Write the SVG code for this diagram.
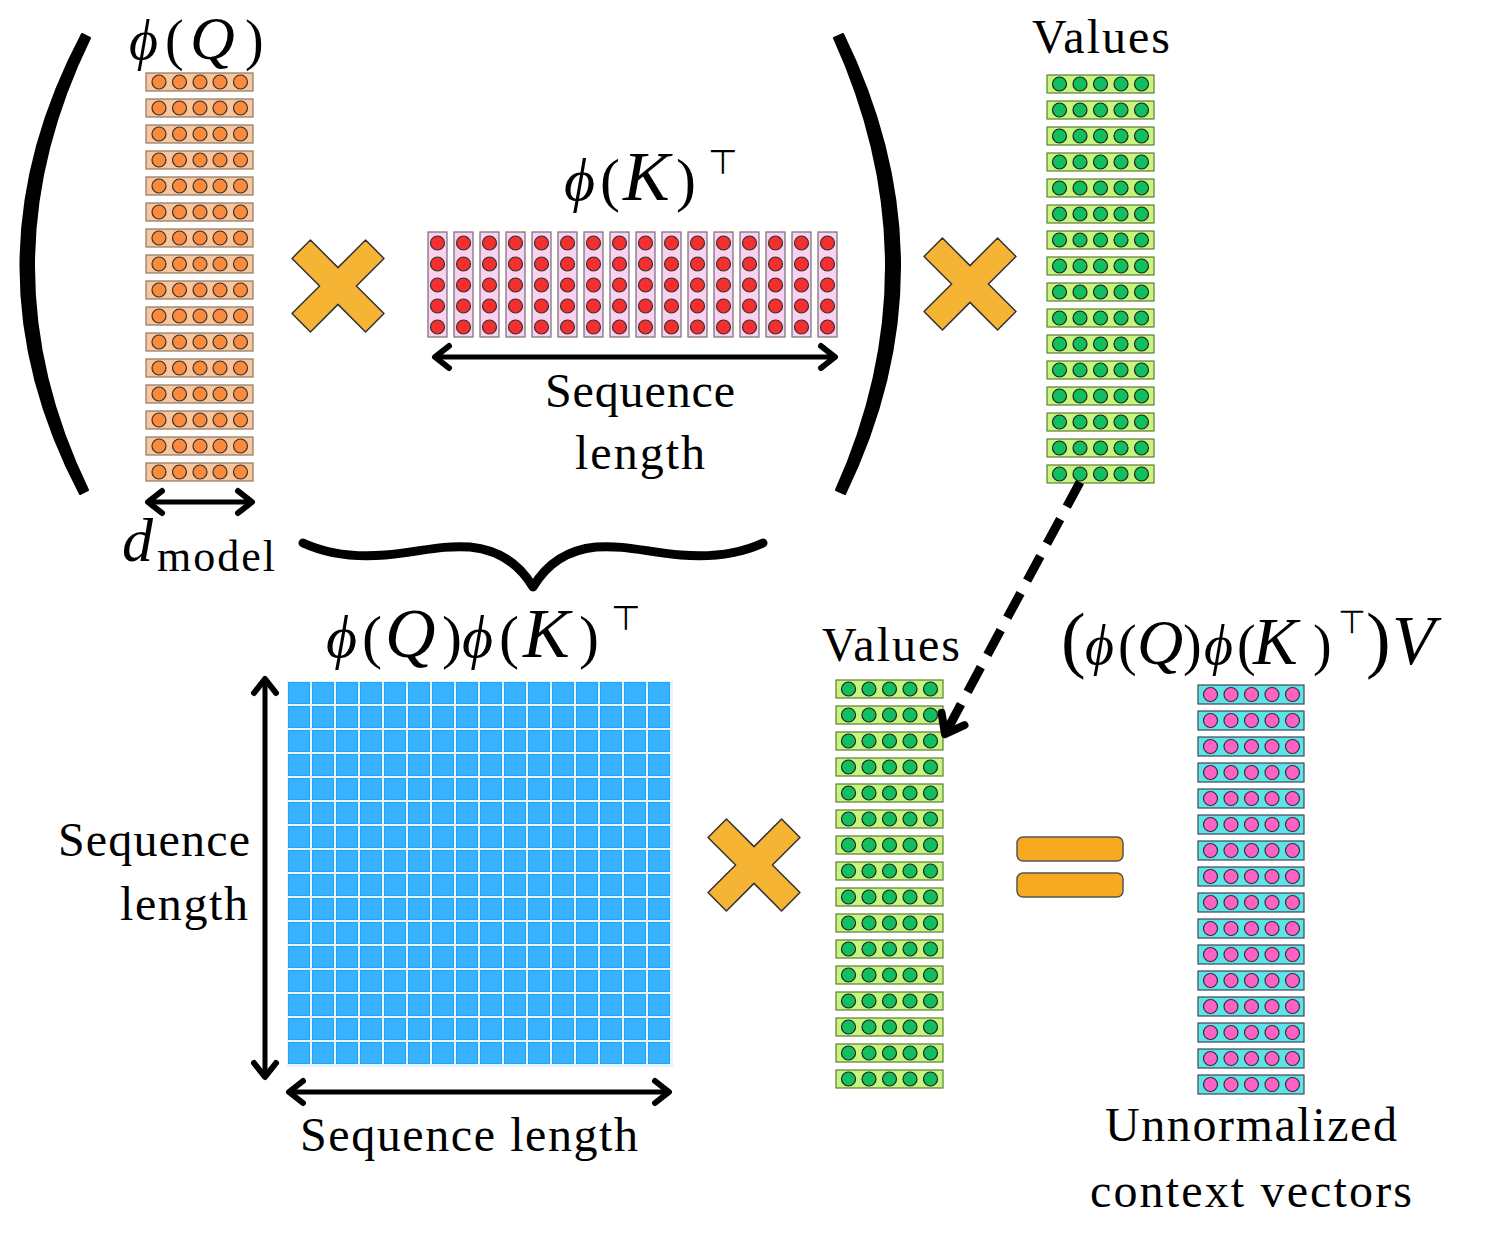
<svg xmlns="http://www.w3.org/2000/svg" xmlns:xlink="http://www.w3.org/1999/xlink" width="1500" height="1237" viewBox="0 0 1500 1237">
<style>
.t{font-family:"Liberation Serif","DejaVu Serif",serif;fill:#000}
.m{font-family:"Liberation Serif","DejaVu Serif",serif;fill:#000}
.i{font-style:italic}
.sym{font-family:"DejaVu Sans","DejaVu Serif",sans-serif}
.ln{stroke:#000;stroke-width:5;fill:none}
.paren{fill:#000;stroke:#000;stroke-width:2;stroke-linejoin:round}
.cross{fill:#F6B434;stroke:#333;stroke-width:1.5;stroke-linejoin:round}
.eq{fill:#F7A91F;stroke:#555;stroke-width:1.5}
</style>
<defs>
<marker id="ah" markerUnits="userSpaceOnUse" viewBox="-30 -30 60 60" markerWidth="60" markerHeight="60" refX="0" refY="0" orient="auto-start-reverse">
<path d="M-14,-11 L0,0 L-14,11" fill="none" stroke="#000" stroke-width="6" stroke-linecap="round" stroke-linejoin="round"/>
</marker>
<marker id="ahd" markerUnits="userSpaceOnUse" viewBox="-30 -30 60 60" markerWidth="60" markerHeight="60" refX="0" refY="0" orient="auto">
<path d="M-17,-13 L0,0 L-17,13" fill="none" stroke="#000" stroke-width="8" stroke-linecap="round" stroke-linejoin="round"/>
</marker>
<g id="orow">
<rect x="0" y="0" width="107" height="18" fill="#F9C69C" stroke="#8C7560" stroke-width="1.2"/>
<g fill="#FB8A3C" stroke="#333" stroke-width="1.2">
<circle cx="13" cy="9" r="7"/><circle cx="33.5" cy="9" r="7"/><circle cx="54" cy="9" r="7"/><circle cx="74" cy="9" r="7"/><circle cx="94.5" cy="9" r="7"/>
</g>
</g>
<g id="kcol">
<rect x="0" y="0" width="19" height="105" fill="#F8D2EE" stroke="#7A6A75" stroke-width="1.2"/>
<g fill="#F52F2F" stroke="#333" stroke-width="1.2">
<circle cx="9.5" cy="11" r="7"/><circle cx="9.5" cy="32" r="7"/><circle cx="9.5" cy="53" r="7"/><circle cx="9.5" cy="74" r="7"/><circle cx="9.5" cy="95" r="7"/>
</g>
</g>
<g id="grow">
<rect x="0" y="0" width="107" height="18" fill="#C6F67C" stroke="#5D7D3A" stroke-width="1.2"/>
<g fill="#12BF5E" stroke="#222" stroke-width="1.2">
<circle cx="12.5" cy="9" r="7"/><circle cx="33" cy="9" r="7"/><circle cx="53.5" cy="9" r="7"/><circle cx="74" cy="9" r="7"/><circle cx="94.5" cy="9" r="7"/>
</g>
</g>
<g id="prow">
<rect x="0" y="0" width="106" height="19" fill="#5CE4E8" stroke="#445" stroke-width="1.2"/>
<g fill="#FF62C5" stroke="#333" stroke-width="1.2">
<circle cx="12.5" cy="9.5" r="7"/><circle cx="33" cy="9.5" r="7"/><circle cx="53.5" cy="9.5" r="7"/><circle cx="74" cy="9.5" r="7"/><circle cx="94.5" cy="9.5" r="7"/>
</g>
</g>
<g id="brow" fill="#38B2FE" stroke="#1FA5F7" stroke-width="1">
<rect x="0.5" y="0.5" width="21" height="21"/><rect x="24.5" y="0.5" width="21" height="21"/><rect x="48.5" y="0.5" width="21" height="21"/><rect x="72.5" y="0.5" width="21" height="21"/>
<rect x="96.5" y="0.5" width="21" height="21"/><rect x="120.5" y="0.5" width="21" height="21"/><rect x="144.5" y="0.5" width="21" height="21"/><rect x="168.5" y="0.5" width="21" height="21"/>
<rect x="192.5" y="0.5" width="21" height="21"/><rect x="216.5" y="0.5" width="21" height="21"/><rect x="240.5" y="0.5" width="21" height="21"/><rect x="264.5" y="0.5" width="21" height="21"/>
<rect x="288.5" y="0.5" width="21" height="21"/><rect x="312.5" y="0.5" width="21" height="21"/><rect x="336.5" y="0.5" width="21" height="21"/><rect x="360.5" y="0.5" width="21" height="21"/>
</g>
<polygon id="xshape" class="cross" points="13,-52 13,-13 52,-13 52,13 13,13 13,52 -13,52 -13,13 -52,13 -52,-13 -13,-13 -13,-52"/>
</defs>

<!-- big parentheses -->
<g id="big-parens">
<path class="paren" d="M82,34 Q-40,265 80,494 L88,490 Q-21,265 90,38 Z"/>
<path class="paren" d="M843,34 Q956,265 845,494 L836,490 Q937,265 834,38 Z"/>
</g>

<!-- phi(Q) -->
<g id="phiQ">
<text class="m" font-size="56" y="59"><tspan x="129" class="i">ϕ</tspan><tspan x="165">(</tspan><tspan x="190" class="i" font-size="62">Q</tspan><tspan x="245">)</tspan></text>
<use href="#orow" x="146" y="73"/><use href="#orow" x="146" y="99"/><use href="#orow" x="146" y="125"/><use href="#orow" x="146" y="151"/>
<use href="#orow" x="146" y="177"/><use href="#orow" x="146" y="203"/><use href="#orow" x="146" y="229"/><use href="#orow" x="146" y="255"/>
<use href="#orow" x="146" y="281"/><use href="#orow" x="146" y="307"/><use href="#orow" x="146" y="333"/><use href="#orow" x="146" y="359"/>
<use href="#orow" x="146" y="385"/><use href="#orow" x="146" y="411"/><use href="#orow" x="146" y="437"/><use href="#orow" x="146" y="463"/>
<text class="m" y="561"><tspan x="122" font-size="62" class="i">d</tspan><tspan x="157" y="571" font-size="44" textLength="118">model</tspan></text>
</g>

<!-- mult 1 -->
<g id="mult1"><use href="#xshape" transform="translate(338,286) rotate(45)"/></g>

<!-- phi(K)^T -->
<g id="phiKT">
<text class="m" font-size="60" y="200"><tspan x="564" class="i">ϕ</tspan><tspan x="600">(</tspan><tspan x="623" class="i" font-size="70">K</tspan><tspan x="676">)</tspan></text>
<text class="sym" font-size="34" x="708" y="174">⊤</text>
<use href="#kcol" x="428" y="232"/><use href="#kcol" x="454" y="232"/><use href="#kcol" x="480" y="232"/><use href="#kcol" x="506" y="232"/>
<use href="#kcol" x="532" y="232"/><use href="#kcol" x="558" y="232"/><use href="#kcol" x="584" y="232"/><use href="#kcol" x="610" y="232"/>
<use href="#kcol" x="636" y="232"/><use href="#kcol" x="662" y="232"/><use href="#kcol" x="688" y="232"/><use href="#kcol" x="714" y="232"/>
<use href="#kcol" x="740" y="232"/><use href="#kcol" x="766" y="232"/><use href="#kcol" x="792" y="232"/><use href="#kcol" x="818" y="232"/>
<text class="t" font-size="48" x="545" y="407" textLength="190">Sequence</text>
<text class="t" font-size="48" x="575" y="469" textLength="130">length</text>
</g>

<!-- mult 2 -->
<g id="mult2"><use href="#xshape" transform="translate(970,284) rotate(45)"/></g>

<!-- Values top -->
<g id="values-top">
<text class="t" font-size="48" x="1032" y="53" textLength="138">Values</text>
<use href="#grow" x="1047" y="75"/><use href="#grow" x="1047" y="101"/><use href="#grow" x="1047" y="127"/><use href="#grow" x="1047" y="153"/>
<use href="#grow" x="1047" y="179"/><use href="#grow" x="1047" y="205"/><use href="#grow" x="1047" y="231"/><use href="#grow" x="1047" y="257"/>
<use href="#grow" x="1047" y="283"/><use href="#grow" x="1047" y="309"/><use href="#grow" x="1047" y="335"/><use href="#grow" x="1047" y="361"/>
<use href="#grow" x="1047" y="387"/><use href="#grow" x="1047" y="413"/><use href="#grow" x="1047" y="439"/><use href="#grow" x="1047" y="465"/>
</g>

<!-- brace -->
<g id="brace">
<path d="M303,543 C325,553 350,558 385,555 C420,552 440,545 470,547 C500,550 520,565 533,587 C546,565 566,550 596,547 C626,545 646,552 681,555 C716,558 741,553 763,543" fill="none" stroke="#000" stroke-width="9" stroke-linecap="round" stroke-linejoin="round"/>
</g>

<!-- attention matrix -->
<g id="attn-matrix">
<text class="m" font-size="60" y="657"><tspan x="326" class="i">ϕ</tspan><tspan x="362">(</tspan><tspan x="385" class="i" font-size="70">Q</tspan><tspan x="442">)</tspan><tspan x="462" class="i">ϕ</tspan><tspan x="499">(</tspan><tspan x="523" class="i" font-size="70">K</tspan><tspan x="579">)</tspan></text>
<text class="sym" font-size="34" x="611" y="630">⊤</text>
<rect x="287" y="681" width="386" height="386" fill="#E4F5FF"/>
<use href="#brow" x="288" y="682"/><use href="#brow" x="288" y="706"/><use href="#brow" x="288" y="730"/><use href="#brow" x="288" y="754"/>
<use href="#brow" x="288" y="778"/><use href="#brow" x="288" y="802"/><use href="#brow" x="288" y="826"/><use href="#brow" x="288" y="850"/>
<use href="#brow" x="288" y="874"/><use href="#brow" x="288" y="898"/><use href="#brow" x="288" y="922"/><use href="#brow" x="288" y="946"/>
<use href="#brow" x="288" y="970"/><use href="#brow" x="288" y="994"/><use href="#brow" x="288" y="1018"/><use href="#brow" x="288" y="1042"/>
<text class="t" font-size="48" x="58" y="856" textLength="192">Sequence</text>
<text class="t" font-size="48" x="120" y="920" textLength="128">length</text>
<text class="t" font-size="48" x="300" y="1151" textLength="338">Sequence length</text>
</g>

<!-- mult 3 -->
<g id="mult3"><use href="#xshape" transform="translate(754,865) rotate(45)"/></g>

<!-- Values bottom -->
<g id="values-bottom">
<text class="t" font-size="48" x="822" y="661" textLength="138">Values</text>
<use href="#grow" x="836" y="680"/><use href="#grow" x="836" y="706"/><use href="#grow" x="836" y="732"/><use href="#grow" x="836" y="758"/>
<use href="#grow" x="836" y="784"/><use href="#grow" x="836" y="810"/><use href="#grow" x="836" y="836"/><use href="#grow" x="836" y="862"/>
<use href="#grow" x="836" y="888"/><use href="#grow" x="836" y="914"/><use href="#grow" x="836" y="940"/><use href="#grow" x="836" y="966"/>
<use href="#grow" x="836" y="992"/><use href="#grow" x="836" y="1018"/><use href="#grow" x="836" y="1044"/><use href="#grow" x="836" y="1070"/>
</g>

<!-- equals -->
<g id="equals">
<rect class="eq" x="1017" y="837" width="106" height="24" rx="6"/>
<rect class="eq" x="1017" y="873" width="106" height="24" rx="6"/>
</g>

<!-- output -->
<g id="output">
<text class="m" font-size="56" y="660"><tspan x="1061" font-size="74" y="664">(</tspan><tspan x="1085" class="i">ϕ</tspan><tspan x="1118">(</tspan><tspan x="1137" class="i" font-size="64">Q</tspan><tspan x="1183">)</tspan><tspan x="1204" class="i">ϕ</tspan><tspan x="1237">(</tspan><tspan x="1253" class="i" font-size="67">K</tspan><tspan x="1313">)</tspan><tspan x="1366" font-size="74" y="664">)</tspan><tspan x="1392" class="i" font-size="70">V</tspan></text>
<text class="sym" font-size="32" x="1338" y="633">⊤</text>
<use href="#prow" x="1198" y="685"/><use href="#prow" x="1198" y="711"/><use href="#prow" x="1198" y="737"/><use href="#prow" x="1198" y="763"/>
<use href="#prow" x="1198" y="789"/><use href="#prow" x="1198" y="815"/><use href="#prow" x="1198" y="841"/><use href="#prow" x="1198" y="867"/>
<use href="#prow" x="1198" y="893"/><use href="#prow" x="1198" y="919"/><use href="#prow" x="1198" y="945"/><use href="#prow" x="1198" y="971"/>
<use href="#prow" x="1198" y="997"/><use href="#prow" x="1198" y="1023"/><use href="#prow" x="1198" y="1049"/><use href="#prow" x="1198" y="1075"/>
<text class="t" font-size="48" x="1105" y="1141" textLength="292">Unnormalized</text>
<text class="t" font-size="48" x="1090" y="1207" textLength="322">context vectors</text>
</g>

<!-- connectors -->
<g id="connectors">
<line class="ln" x1="148" y1="502" x2="252" y2="502" marker-start="url(#ah)" marker-end="url(#ah)"/>
<line class="ln" x1="435" y1="357" x2="835" y2="357" marker-start="url(#ah)" marker-end="url(#ah)"/>
<line class="ln" x1="265" y1="679" x2="265" y2="1077" marker-start="url(#ah)" marker-end="url(#ah)"/>
<line class="ln" x1="289" y1="1092" x2="669" y2="1092" marker-start="url(#ah)" marker-end="url(#ah)"/>
<line x1="1080" y1="482" x2="945" y2="734" stroke="#000" stroke-width="9" stroke-dasharray="28 14" marker-end="url(#ahd)"/>
</g>
</svg>
